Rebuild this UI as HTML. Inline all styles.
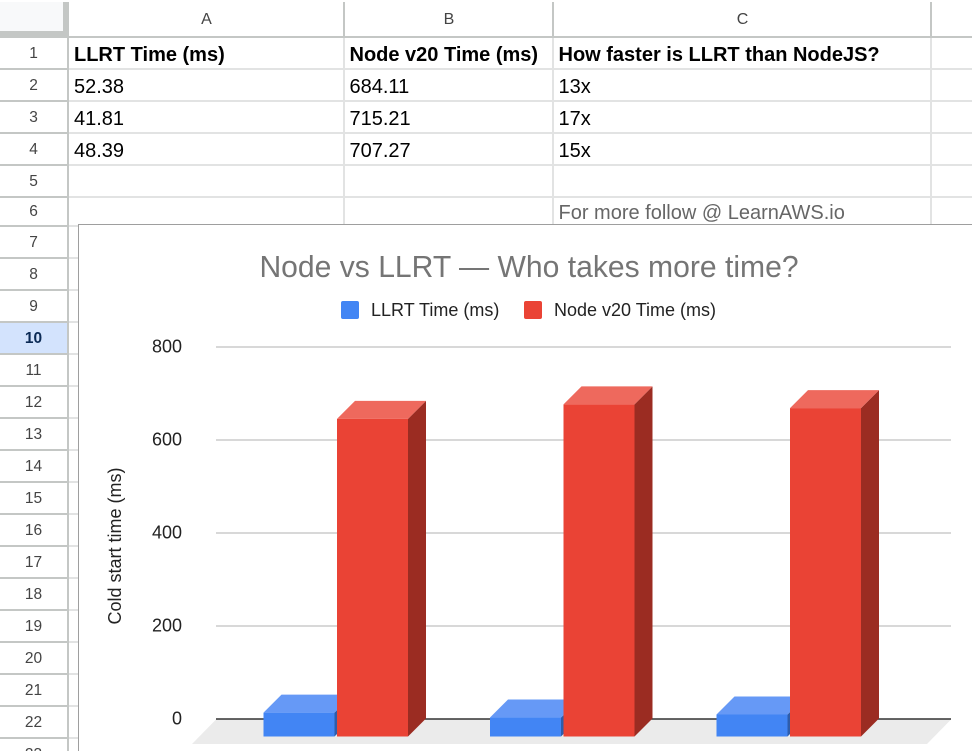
<!DOCTYPE html>
<html>
<head>
<meta charset="utf-8">
<style>
html,body{margin:0;padding:0;background:#fff;}
#page{position:relative;width:972px;height:751px;overflow:hidden;background:#fff;font-family:"Liberation Sans",sans-serif;color:#000;}
.ln{position:absolute;}
.rh{position:absolute;left:0;width:67px;height:30px;line-height:30px;text-align:center;font-size:15.5px;color:#444;}
.ch{position:absolute;top:0;height:37px;line-height:39px;text-align:center;font-size:16px;color:#444;}
.c{position:absolute;font-size:20px;height:30px;line-height:32px;white-space:nowrap;color:#000;}
.b{font-weight:bold;}
svg{position:absolute;left:0;top:0;}
</style>
</head>
<body>
<div id="page">
  <div class="ln" style="left:0;top:2px;width:63px;height:29px;background:#f8f9fa;"></div>
  <div class="ln" style="left:63px;top:2px;width:6px;height:35px;background:#c4c7c5;"></div>
  <div class="ln" style="left:0;top:31px;width:69px;height:6px;background:#c4c7c5;"></div>

  <div class="ch" style="left:69px;width:275px;">A</div>
  <div class="ch" style="left:346px;width:206px;">B</div>
  <div class="ch" style="left:554px;width:377px;">C</div>

  <div class="ln" style="left:0;top:322px;width:68px;height:32px;background:#d3e3fd;"></div>
  <div id="rows"></div>

  <div class="ln" style="left:343px;top:2px;width:2px;height:35px;background:#c4c7c5;"></div>
  <div class="ln" style="left:552px;top:2px;width:2px;height:35px;background:#c4c7c5;"></div>
  <div class="ln" style="left:930px;top:2px;width:2px;height:35px;background:#c4c7c5;"></div>
  <div class="ln" style="left:343px;top:37px;width:2px;height:187px;background:#e2e3e3;"></div>
  <div class="ln" style="left:552px;top:37px;width:2px;height:187px;background:#e2e3e3;"></div>
  <div class="ln" style="left:930px;top:37px;width:2px;height:187px;background:#e2e3e3;"></div>
  <div class="ln" style="left:0;top:36px;width:972px;height:2px;background:#c4c7c5;"></div>
  <div class="ln" style="left:67px;top:37px;width:2px;height:714px;background:#c4c7c5;"></div>

  <div class="c b" style="left:74px;top:39px;">LLRT Time (ms)</div>
  <div class="c b" style="left:349.5px;top:39px;">Node v20 Time (ms)</div>
  <div class="c b" style="left:558.5px;top:39px;">How faster is LLRT than NodeJS?</div>
  <div class="c" style="left:74px;top:71px;">52.38</div>
  <div class="c" style="left:349.5px;top:71px;">684.11</div>
  <div class="c" style="left:558.5px;top:71px;">13x</div>
  <div class="c" style="left:74px;top:103px;">41.81</div>
  <div class="c" style="left:349.5px;top:103px;">715.21</div>
  <div class="c" style="left:558.5px;top:103px;">17x</div>
  <div class="c" style="left:74px;top:135px;">48.39</div>
  <div class="c" style="left:349.5px;top:135px;">707.27</div>
  <div class="c" style="left:558.5px;top:135px;">15x</div>
  <div class="c" style="left:558.5px;top:197px;color:#666;">For more follow @ LearnAWS.io</div>

  <div class="ln" style="left:78px;top:224px;width:900px;height:540px;background:#fff;border:1px solid #9e9e9e;box-sizing:border-box;"></div>

  <svg id="chart" width="972" height="751" viewBox="0 0 972 751" font-family="'Liberation Sans',sans-serif">
    <text x="529" y="277" text-anchor="middle" font-size="30.1" fill="#757575">Node vs LLRT — Who takes more time?</text>
    <rect x="341" y="301" width="18" height="18" rx="2" fill="#4285f4"/>
    <text x="371" y="316" font-size="18" fill="#222">LLRT Time (ms)</text>
    <rect x="524" y="301" width="18" height="18" rx="2" fill="#ea4335"/>
    <text x="554" y="316" font-size="18" fill="#222">Node v20 Time (ms)</text>
    <text transform="translate(121,546) rotate(-90)" text-anchor="middle" font-size="18" fill="#222">Cold start time (ms)</text>
    <g id="plot"></g>
  </svg>
</div>
<script>
var categories = ['Run 1', 'Run 2', 'Run 3'];
var llrtValues = [52.38, 41.81, 48.39];
var nodeValues = [684.11, 715.21, 707.27];
var tickValues = [0, 200, 400, 600, 800];

var NS = 'http://www.w3.org/2000/svg';
var plot = document.getElementById('plot');
var rowsHost = document.getElementById('rows');

function yScale(v) { return 719 - v * 0.465; }
function groupX(i) { return 263.5 + i * 226.5; }
function rowBottom(r) { return r <= 5 ? 69 + 32 * (r - 1) : 226 + 32 * (r - 6); }

function svgEl(tag, attrs) {
  var el = document.createElementNS(NS, tag);
  for (var k in attrs) { el.setAttribute(k, attrs[k]); }
  return el;
}

for (var r = 1; r <= 23; r++) {
  var rowEnd = rowBottom(r);
  var rh = document.createElement('div');
  
  
  rh.className = 'rh';
  rh.style.top = (r === 6 ? 197 : rowEnd - 30) + 'px';
  rh.textContent = r;
  if (r === 10) {
    rh.style.fontWeight = 'bold';
    rh.style.color = '#0b2a55';
  }
  rowsHost.appendChild(rh);

  var hl = document.createElement('div');
  
  
  hl.className = 'ln';
  hl.style.cssText = 'left:0;top:' + (rowEnd - 1) + 'px;width:68px;height:2px;background:#c4c7c5;';
  rowsHost.appendChild(hl);

  var gl = document.createElement('div');
  
  
  gl.className = 'ln';
  gl.style.cssText = 'left:69px;top:' + (rowEnd - 1) + 'px;width:' + (r <= 5 ? 903 : 9) + 'px;height:2px;background:#e2e3e3;';
  rowsHost.appendChild(gl);
}

var floor = svgEl('polygon', {points: '216,719.5 951,719.5 927,744 192,744', fill: '#ebebeb'});


plot.appendChild(floor);

tickValues.forEach(function (t) {
  var y = yScale(t);
  var line = svgEl('line', {x1: 216, x2: 951, y1: y, y2: y, stroke: t === 0 ? '#333' : '#ccc', 'stroke-width': 1.5});
  
  
  plot.appendChild(line);
  var label = svgEl('text', {x: 182, y: y + 5.5, 'text-anchor': 'end', 'font-size': 18, fill: '#222'});
  
  
  label.textContent = t;
  plot.appendChild(label);
});

function drawBar(x, value, front, topFace, sideFace, name) {
  var w = 71, d = 18;
  var yBack = yScale(value);
  var yFront = yBack + d;
  var base = yScale(0) + d - 0.5;
  var g = svgEl('g', {});
  
  
  g.appendChild(svgEl('polygon', {points: (x + w) + ',' + yFront + ' ' + (x + w + d) + ',' + yBack + ' ' + (x + w + d) + ',' + (base - d) + ' ' + (x + w) + ',' + base, fill: sideFace}));
  g.appendChild(svgEl('polygon', {points: x + ',' + yFront + ' ' + (x + d) + ',' + yBack + ' ' + (x + w + d) + ',' + yBack + ' ' + (x + w) + ',' + yFront, fill: topFace}));
  g.appendChild(svgEl('rect', {x: x, y: yFront, width: w, height: base - yFront, fill: front}));
  plot.appendChild(g);
}

categories.forEach(function (c, i) {
  var x = groupX(i);
  drawBar(x, llrtValues[i], '#4285f4', '#6699f6', '#2e5dab', 'bar-llrt-' + (i + 1));
  drawBar(x + 73.5, nodeValues[i], '#ea4335', '#ee695d', '#9b2c22', 'bar-node-' + (i + 1));
});
</script>
</body>
</html>
